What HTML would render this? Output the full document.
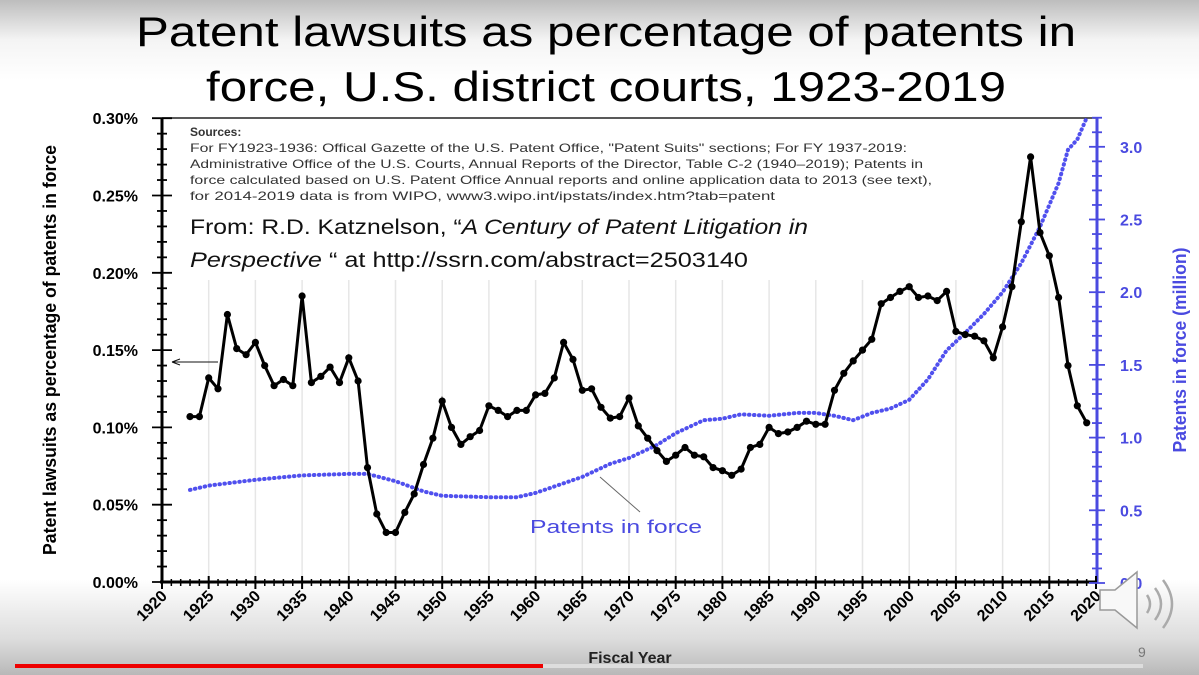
<!DOCTYPE html>
<html><head><meta charset="utf-8"><style>
html,body{margin:0;padding:0;}
body{width:1199px;height:675px;overflow:hidden;background:linear-gradient(#bdbdbd 0px,#f4f4f4 40px,#fff 80px,#fff 580px,#dcdcdc 640px,#b8b8b8 675px);font-family:"Liberation Sans",sans-serif;}
</style></head><body>
<svg id="s" width="1199" height="675" xmlns="http://www.w3.org/2000/svg" style="position:absolute;left:0;top:0">
<text x="606" y="46" font-size="42" text-anchor="middle" textLength="940" lengthAdjust="spacingAndGlyphs">Patent lawsuits as percentage of patents in</text>
<text x="606" y="101" font-size="42" text-anchor="middle" textLength="800" lengthAdjust="spacingAndGlyphs">force, U.S. district courts, 1923-2019</text>
<g id="grid" stroke="#e6e6e6" stroke-width="1.5"></g>
<line x1="162" y1="118" x2="1097" y2="118" stroke="#222" stroke-width="1.5"/>
<g id="axes"></g>
<text font-size="12" font-weight="bold" fill="#333" x="190" y="136">Sources:</text>
<g font-size="12" fill="#333">
<text x="190" y="152" textLength="717" lengthAdjust="spacingAndGlyphs">For FY1923-1936: Offical Gazette of the U.S. Patent Office, "Patent Suits" sections; For FY 1937-2019:</text>
<text x="190" y="168" textLength="733" lengthAdjust="spacingAndGlyphs">Administrative Office of the U.S. Courts, Annual Reports of the Director, Table C-2 (1940–2019); Patents in</text>
<text x="190" y="184" textLength="742" lengthAdjust="spacingAndGlyphs">force calculated based on U.S. Patent Office Annual reports and online application data to 2013 (see text),</text>
<text x="190" y="200" textLength="585" lengthAdjust="spacingAndGlyphs">for 2014-2019 data is from WIPO, www3.wipo.int/ipstats/index.htm?tab=patent</text>
</g>
<text x="190" y="234" font-size="21" fill="#111" textLength="618" lengthAdjust="spacingAndGlyphs">From: R.D. Katznelson, “<tspan font-style="italic">A Century of Patent Litigation in</tspan></text>
<text x="190" y="267" font-size="21" fill="#111" textLength="558" lengthAdjust="spacingAndGlyphs"><tspan font-style="italic">Perspective</tspan> “ at http://ssrn.com/abstract=2503140</text>
<text x="530" y="533" font-size="18" fill="#4a4ae0" textLength="172" lengthAdjust="spacingAndGlyphs">Patents in force</text>
<line x1="600" y1="477" x2="640" y2="512" stroke="#666" stroke-width="1"/>
<line x1="218" y1="362" x2="172" y2="362" stroke="#111" stroke-width="1"/>
<path d="M172,362 l8,-3 M172,362 l8,3" stroke="#111" stroke-width="1"/>
<path id="blue" fill="none" stroke="#5050ee" stroke-width="4" stroke-dasharray="0.5,4.5" stroke-linecap="round"/>
<path id="black" fill="none" stroke="#000" stroke-width="3"/>
<g id="dots" fill="#000"></g>
<text transform="translate(56,350) rotate(-90)" font-size="18" font-weight="bold" text-anchor="middle" textLength="410" lengthAdjust="spacingAndGlyphs">Patent lawsuits as percentage of patents in force</text>
<text transform="translate(1186,350) rotate(-90)" font-size="18" font-weight="bold" text-anchor="middle" fill="#4a4ae0" textLength="205" lengthAdjust="spacingAndGlyphs">Patents in force (million)</text>
<text x="630" y="663" font-size="16" font-weight="bold" text-anchor="middle" fill="#222">Fiscal Year</text>
<rect x="15" y="664" width="528" height="4" fill="#e00"/>
<rect x="543" y="664" width="600" height="4" fill="#ddd"/>
<text x="1138" y="657" font-size="14" fill="#777">9</text>
<path d="M1100,590 l15,0 l22,-18 l0,56 l-22,-18 l-15,0 z" fill="#f8f8f8" stroke="#999" stroke-width="1.5"/>
<path d="M1147,595 q6,9 0,18 M1155,588 q12,16 0,32 M1163,580 q18,24 0,48" fill="none" stroke="#aaa" stroke-width="2.5"/>
</svg>
<script>
var X=function(y){return 162+9.34*(y-1920)};
var YL=function(v){return 582-v/0.05*77.3};
var YR=function(v){return 583-v*145.4};
var b=[.107,.107,.132,.125,.173,.151,.147,.155,.140,.127,.131,.127,.185,.129,.133,.139,.129,.145,.130,.074,.044,.032,.032,.045,.057,.076,.093,.117,.100,.089,.094,.098,.114,.111,.107,.111,.111,.121,.122,.132,.155,.144,.124,.125,.113,.106,.107,.119,.101,.093,.085,.078,.082,.087,.082,.081,.074,.072,.069,.073,.087,.089,.100,.096,.097,.100,.104,.102,.102,.124,.135,.143,.150,.157,.180,.184,.188,.191,.184,.185,.182,.188,.162,.160,.159,.156,.145,.165,.191,.233,.275,.226,.211,.184,.140,.114,.103];
var d="",dots="";
b.forEach(function(v,i){var x=X(1923+i),y=YL(v);d+=(i?"L":"M")+x.toFixed(1)+","+y.toFixed(1);dots+='<circle cx="'+x.toFixed(1)+'" cy="'+y.toFixed(1)+'" r="3.6"/>';});
document.getElementById("black").setAttribute("d",d);
document.getElementById("dots").innerHTML=dots;
var bl=[[1923,.64],[1925,.67],[1930,.71],[1935,.74],[1940,.75],[1942,.75],[1945,.70],[1948,.63],[1950,.60],[1955,.59],[1958,.59],[1960,.62],[1965,.73],[1968,.82],[1970,.86],[1973,.95],[1975,1.03],[1978,1.12],[1980,1.13],[1982,1.16],[1985,1.15],[1988,1.17],[1990,1.17],[1992,1.15],[1994,1.12],[1996,1.17],[1998,1.20],[2000,1.26],[2002,1.40],[2004,1.60],[2006,1.72],[2008,1.85],[2010,2.00],[2012,2.20],[2014,2.45],[2016,2.75],[2017,2.98],[2018,3.05],[2019,3.2]];
d="";bl.forEach(function(p,i){d+=(i?"L":"M")+X(p[0]).toFixed(1)+","+YR(p[1]).toFixed(1);});
document.getElementById("blue").setAttribute("d",d);
var g="",a="";
for(var y=1925;y<=2015;y+=5){g+='<line x1="'+X(y)+'" y1="280" x2="'+X(y)+'" y2="582"/>';}
document.getElementById("grid").innerHTML=g;
a+='<line x1="162" y1="118" x2="162" y2="583" stroke="#000" stroke-width="3"/>';
a+='<line x1="160" y1="582" x2="1097" y2="582" stroke="#000" stroke-width="3"/>';
a+='<line x1="1097" y1="118" x2="1097" y2="583" stroke="#4a4ae0" stroke-width="3"/>';
for(var y=1920;y<=2020;y++){var big=y%5==0;a+='<line x1="'+X(y)+'" y1="'+(582-(big?6:3))+'" x2="'+X(y)+'" y2="'+(582+(big?7:4))+'" stroke="#000" stroke-width="'+(big?2:1.5)+'"/>';
if(big)a+='<text transform="translate('+(X(y)+6)+',597) rotate(-45)" text-anchor="end" font-size="16" font-weight="bold">'+y+'</text>';}
for(var i=0;i<=30;i++){var v=i*0.01,yy=YL(v);var big=i%5==0;a+='<line x1="'+(big?152:157)+'" y1="'+yy+'" x2="'+(big?172:167)+'" y2="'+yy+'" stroke="#000" stroke-width="1.8"/>';
if(big)a+='<text x="138" y="'+(yy+6)+'" text-anchor="end" font-size="16" font-weight="bold">'+(v).toFixed(2)+'%</text>';}
for(var i=0;i<=32;i++){var v=i*0.1,yy=YR(v);var big=i%5==0;a+='<line x1="'+(big?1089:1092)+'" y1="'+yy+'" x2="'+(big?1105:1102)+'" y2="'+yy+'" stroke="#4a4ae0" stroke-width="1.8"/>';
if(big)a+='<text x="1120" y="'+(yy+6)+'" font-size="16" font-weight="bold" fill="#4a4ae0">'+v.toFixed(1)+'</text>';}
document.getElementById("axes").innerHTML=a;
</script>
</body></html>
